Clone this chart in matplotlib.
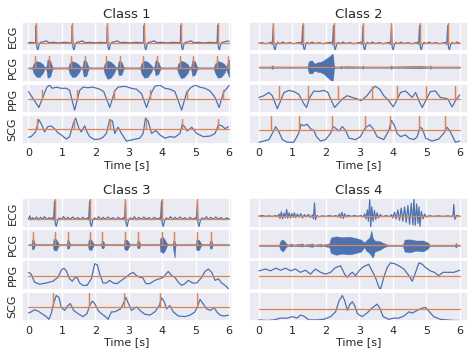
import numpy as np
import matplotlib.pyplot as plt
import seaborn as sns

sns.set_theme(style="darkgrid")
plt.rcParams['font.family'] = ['DejaVu Sans']

signal_names = ["ECG", "PCG", "PPG", "SCG"]
class_names = ["Class 1", "Class 2", "Class 3", "Class 4"]
time_ticks = [0, 1, 2, 3, 4, 5, 6]

# ---------------- Class 1 ----------------
c1_ecg = [(0.00, .30), (0.08, .31), (0.18, .29), (0.21, .27), (0.23, .88), (0.25, .15), (0.28, .04), (0.32, .25),
          (0.36, .31), (0.45, .33), (0.53, .36), (0.61, .30), (0.75, .31), (0.90, .29), (1.05, .31), (1.18, .30),
          (1.26, .29), (1.29, .27), (1.31, .88), (1.33, .15), (1.36, .04), (1.40, .25), (1.44, .31), (1.53, .33),
          (1.61, .36), (1.69, .30), (1.85, .31), (2.00, .29), (2.15, .31), (2.28, .30), (2.31, .29), (2.34, .27),
          (2.36, .88), (2.38, .15), (2.41, .04), (2.45, .25), (2.49, .31), (2.58, .33), (2.66, .36), (2.74, .30),
          (2.90, .31), (3.05, .29), (3.20, .31), (3.38, .30), (3.41, .29), (3.44, .27), (3.46, .88), (3.48, .15),
          (3.51, .04), (3.55, .25), (3.59, .31), (3.68, .33), (3.76, .36), (3.84, .30), (4.00, .31), (4.15, .29),
          (4.30, .31), (4.48, .30), (4.51, .29), (4.54, .27), (4.56, .88), (4.58, .15), (4.61, .04), (4.65, .25),
          (4.69, .31), (4.78, .33), (4.86, .36), (4.94, .30), (5.10, .31), (5.25, .29), (5.40, .31), (5.58, .30),
          (5.61, .29), (5.64, .27), (5.66, .88), (5.68, .15), (5.71, .04), (5.75, .25), (5.79, .31), (5.88, .33),
          (5.96, .36), (6.00, .34)]
c1_pcg = [(0.00, .47, .51), (0.11, .47, .51), (0.15, .32, .64), (0.23, .20, .72), (0.33, .18, .70), (0.43, .32, .62),
          (0.48, .46, .52), (0.53, .45, .53), (0.57, .16, .78), (0.65, .20, .74), (0.71, .45, .53), (0.75, .47, .51),
          (1.19, .47, .51), (1.23, .30, .66), (1.31, .18, .72), (1.41, .20, .68), (1.51, .34, .60), (1.56, .46, .52),
          (1.61, .45, .53), (1.65, .20, .76), (1.73, .22, .72), (1.79, .45, .53), (1.83, .47, .51),
          (2.24, .47, .51), (2.28, .30, .64), (2.36, .12, .74), (2.46, .16, .70), (2.56, .32, .60), (2.61, .46, .52),
          (2.66, .45, .53), (2.70, .24, .74), (2.78, .26, .70), (2.84, .45, .53), (2.88, .47, .51),
          (3.34, .47, .51), (3.38, .30, .66), (3.46, .16, .74), (3.56, .18, .70), (3.66, .34, .60), (3.71, .46, .52),
          (3.76, .45, .53), (3.80, .24, .76), (3.88, .28, .70), (3.94, .45, .53), (3.98, .47, .51),
          (4.44, .47, .51), (4.48, .32, .64), (4.56, .14, .74), (4.66, .18, .70), (4.76, .32, .62), (4.81, .46, .52),
          (4.86, .45, .53), (4.90, .22, .76), (4.98, .26, .72), (5.04, .45, .53), (5.08, .47, .51),
          (5.54, .47, .51), (5.58, .32, .64), (5.66, .16, .72), (5.76, .18, .70), (5.86, .32, .62), (5.91, .46, .52),
          (5.95, .32, .68), (6.00, .18, .78)]
c1_ppg = [(0.00, .74), (0.31, .20), (0.55, .89), (0.63, .96), (0.71, .85), (0.83, .89), (0.98, .85), (1.13, .85),
          (1.23, .78), (1.38, .11), (1.53, .78), (1.63, .89), (1.78, .87), (1.93, .89), (2.13, .82), (2.25, .74),
          (2.43, .20), (2.58, .76), (2.68, .89), (2.88, .92), (3.08, .85), (3.23, .82), (3.38, .67), (3.53, .20),
          (3.68, .71), (3.78, .92), (3.93, .96), (4.08, .85), (4.23, .82), (4.38, .74), (4.58, .11), (4.73, .71),
          (4.85, .87), (4.98, .96), (5.13, .89), (5.28, .85), (5.43, .76), (5.58, .54), (5.70, .20), (5.83, .71),
          (5.98, .92), (6.00, .96)]
c1_scg = [(0.00, .24), (0.08, .26), (0.21, .42), (0.31, .84), (0.41, .63), (0.48, .42), (0.58, .60), (0.68, .62),
          (0.78, .53), (0.88, .39), (0.98, .32), (1.13, .18), (1.23, .26), (1.35, .74), (1.41, .89), (1.51, .53),
          (1.58, .42), (1.68, .63), (1.75, .42), (1.83, .26), (1.98, .16), (2.13, .18), (2.23, .24), (2.33, .37),
          (2.43, .84), (2.51, .79), (2.58, .37), (2.68, .58), (2.78, .37), (2.93, .11), (3.13, .16), (3.33, .21),
          (3.43, .37), (3.50, .89), (3.58, .79), (3.68, .37), (3.81, .47), (3.93, .32), (4.08, .21), (4.23, .26),
          (4.38, .24), (4.53, .37), (4.60, .68), (4.68, .58), (4.75, .45), (4.88, .58), (5.03, .37), (5.23, .26),
          (5.43, .28), (5.58, .37), (5.68, .66), (5.78, .63), (5.88, .53), (5.98, .60)]
c1_marks = [[0.23, 1.31, 2.36, 3.46, 4.56, 5.66],
            [0.20, 0.60, 1.28, 1.68, 2.33, 2.73, 3.43, 3.83, 4.53, 4.93, 5.63, 5.98],
            [0.41, 1.45, 2.56, 3.64, 4.73, 5.83],
            [0.25, 1.35, 2.43, 3.50, 4.58, 5.66]]
c1_base = [0.30, 0.49, 0.49, 0.53]
c1_top = [0.97, 0.88, 0.78, 0.87]

# ---------------- Class 2 ----------------
c2_ecg = [(0.00, .28), (0.10, .30), (0.20, .26), (0.30, .29), (0.37, .31), (0.40, .24), (0.43, .88), (0.45, .15),
          (0.48, .05), (0.52, .24), (0.56, .31), (0.63, .26), (0.71, .32), (0.79, .27), (0.93, .30), (1.03, .26),
          (1.13, .29), (1.25, .31), (1.28, .24), (1.31, .88), (1.33, .15), (1.36, .05), (1.40, .24), (1.44, .31),
          (1.51, .26), (1.59, .32), (1.67, .27), (1.81, .30), (1.91, .26), (2.01, .29), (2.17, .31), (2.20, .24),
          (2.23, .88), (2.25, .15), (2.28, .05), (2.32, .24), (2.36, .31), (2.43, .26), (2.51, .32), (2.59, .27),
          (2.73, .30), (2.83, .26), (2.93, .29), (3.05, .31), (3.08, .24), (3.11, .88), (3.13, .15), (3.16, .05),
          (3.20, .24), (3.24, .31), (3.31, .26), (3.39, .32), (3.47, .27), (3.61, .30), (3.71, .26), (3.81, .29),
          (3.90, .31), (3.93, .24), (3.96, .88), (3.98, .15), (4.01, .05), (4.05, .24), (4.09, .31), (4.16, .26),
          (4.24, .32), (4.32, .27), (4.46, .30), (4.56, .26), (4.66, .29), (4.74, .31), (4.77, .24), (4.80, .88),
          (4.82, .15), (4.85, .05), (4.89, .24), (4.93, .31), (5.00, .26), (5.08, .32), (5.16, .27), (5.30, .30),
          (5.40, .26), (5.50, .29), (5.58, .31), (5.61, .24), (5.64, .88), (5.66, .15), (5.69, .05), (5.73, .24),
          (5.77, .31), (5.84, .26), (5.92, .32), (6.00, .28)]
c2_pcg = [(0.00, .50, .54), (0.36, .50, .54), (0.40, .46, .58), (0.44, .50, .54), (1.45, .50, .54), (1.49, .32, .72),
          (1.58, .30, .75), (1.66, .40, .64), (1.75, .36, .68), (1.85, .34, .70), (1.95, .28, .76), (2.02, .20, .82),
          (2.10, .12, .88), (2.17, .05, .95), (2.21, .03, .97), (2.24, .45, .58), (2.27, .50, .54), (2.42, .50, .54),
          (2.45, .47, .57), (2.48, .50, .54), (2.60, .49, .55), (3.08, .50, .54), (3.10, .46, .58), (3.13, .50, .54),
          (3.92, .50, .54), (3.95, .46, .58), (3.99, .50, .54), (4.80, .48, .56), (5.10, .50, .54), (5.12, .46, .58),
          (5.15, .50, .54), (6.00, .50, .54)]
c2_ppg = [(0.00, .54), (0.15, .60), (0.30, .71), (0.40, .60), (0.55, .16), (0.65, .43), (0.75, .71), (0.90, .78),
          (1.04, .74), (1.19, .65), (1.34, .33), (1.42, .20), (1.52, .54), (1.64, .76), (1.79, .74), (1.94, .78),
          (2.06, .71), (2.14, .49), (2.26, .20), (2.34, .30), (2.49, .49), (2.64, .60), (2.79, .54), (2.94, .49),
          (3.05, .43), (3.23, .60), (3.33, .76), (3.48, .92), (3.61, .82), (3.73, .60), (3.88, .43), (4.01, .22),
          (4.11, .43), (4.23, .71), (4.38, .76), (4.48, .65), (4.58, .54), (4.68, .71), (4.81, .35), (4.88, .20),
          (4.98, .43), (5.12, .74), (5.27, .76), (5.42, .54), (5.52, .52), (5.64, .49), (5.77, .22), (5.87, .43),
          (6.00, .63)]
c2_scg = [(0.00, .07), (0.15, .11), (0.30, .16), (0.40, .37), (0.50, .60), (0.60, .42), (0.70, .16), (0.85, .07),
          (1.04, .07), (1.19, .37), (1.26, .68), (1.34, .63), (1.44, .68), (1.54, .53), (1.64, .47), (1.72, .26),
          (1.84, .11), (1.99, .16), (2.14, .37), (2.22, .60), (2.31, .53), (2.39, .45), (2.49, .60), (2.59, .47),
          (2.69, .21), (2.89, .16), (3.03, .26), (3.16, .53), (3.23, .60), (3.31, .66), (3.41, .53), (3.53, .26),
          (3.73, .16), (3.88, .47), (3.96, .81), (4.05, .63), (4.13, .37), (4.23, .26), (4.38, .32), (4.48, .21),
          (4.63, .16), (4.73, .26), (4.81, .58), (4.88, .53), (4.98, .21), (5.17, .11), (5.37, .18), (5.52, .37),
          (5.62, .58), (5.72, .42), (5.87, .07), (6.00, .11)]
c2_marks = [[0.43, 1.31, 2.23, 3.11, 3.96, 4.80, 5.64],
            [],
            [0.60, 1.47, 2.36, 3.38, 4.13, 5.00, 5.87],
            [0.35, 1.19, 2.17, 3.18, 3.91, 4.79, 5.57]]
c2_base = [0.28, 0.52, 0.49, 0.49]
c2_top = [0.97, 0.52, 0.92, 0.95]

# ---------------- Class 3 ----------------
c3_ecg = [(0.00, .30), (0.04, .40), (0.07, .26), (0.12, .34), (0.18, .28), (0.24, .36), (0.30, .27), (0.36, .35),
          (0.42, .29), (0.48, .37), (0.55, .28), (0.62, .34), (0.68, .30), (0.72, .34), (0.75, .26), (0.78, .90),
          (0.80, .15), (0.83, .04), (0.87, .24), (0.92, .33), (0.98, .28), (1.05, .38), (1.10, .27), (1.18, .35),
          (1.25, .28), (1.32, .36), (1.40, .29), (1.48, .34), (1.55, .27), (1.62, .35), (1.70, .29), (1.77, .33),
          (1.80, .26), (1.83, .90), (1.85, .15), (1.88, .04), (1.92, .24), (1.97, .33), (2.04, .28), (2.10, .37),
          (2.16, .27), (2.23, .35), (2.30, .28), (2.38, .36), (2.45, .29), (2.53, .34), (2.60, .27), (2.68, .35),
          (2.76, .29), (2.84, .33), (2.87, .26), (2.90, .90), (2.92, .15), (2.95, .04), (2.99, .24), (3.04, .33),
          (3.10, .28), (3.17, .37), (3.23, .27), (3.30, .35), (3.38, .28), (3.45, .36), (3.52, .29), (3.60, .34),
          (3.68, .27), (3.76, .35), (3.84, .29), (3.92, .33), (3.95, .26), (3.98, .90), (4.00, .15), (4.03, .04),
          (4.07, .24), (4.12, .33), (4.18, .28), (4.25, .37), (4.31, .27), (4.38, .35), (4.45, .28), (4.53, .36),
          (4.60, .29), (4.68, .34), (4.75, .27), (4.83, .35), (4.91, .29), (4.99, .33), (5.02, .26), (5.05, .90),
          (5.07, .15), (5.10, .04), (5.14, .24), (5.19, .33), (5.25, .28), (5.32, .37), (5.38, .27), (5.45, .35),
          (5.52, .28), (5.60, .36), (5.68, .29), (5.76, .34), (5.84, .27), (5.92, .33), (6.00, .30)]
c3_pcg = [(0.00, .46, .50), (0.09, .46, .50), (0.11, .32, .66), (0.16, .34, .64), (0.19, .46, .50),
          (0.73, .46, .50), (0.75, .30, .68), (0.83, .28, .66), (0.88, .40, .56), (0.91, .46, .50),
          (1.14, .46, .50), (1.16, .34, .64), (1.21, .36, .62), (1.24, .46, .50),
          (1.78, .46, .50), (1.80, .32, .66), (1.88, .30, .64), (1.93, .42, .54), (1.96, .46, .50),
          (2.17, .46, .50), (2.19, .36, .62), (2.24, .36, .60), (2.27, .46, .50),
          (2.85, .46, .50), (2.87, .32, .66), (2.95, .30, .64), (3.00, .40, .56), (3.03, .46, .50),
          (3.24, .46, .50), (3.26, .36, .62), (3.31, .36, .60), (3.34, .46, .50),
          (3.92, .46, .50), (3.94, .26, .70), (4.02, .20, .74), (4.08, .28, .64), (4.13, .42, .54), (4.16, .46, .50),
          (4.31, .46, .50), (4.33, .30, .62), (4.37, .03, .60), (4.40, .46, .50),
          (5.00, .46, .50), (5.02, .30, .66), (5.10, .30, .64), (5.15, .42, .54), (5.18, .46, .50),
          (5.41, .46, .50), (5.43, .34, .62), (5.48, .36, .60), (5.51, .46, .50), (6.00, .46, .50)]
c3_ppg = [(0.00, .60), (0.08, .54), (0.18, .27), (0.33, .20), (0.53, .24), (0.73, .30), (0.88, .43), (0.98, .67),
          (1.06, .74), (1.13, .65), (1.23, .38), (1.31, .30), (1.38, .41), (1.45, .43), (1.53, .24), (1.63, .16),
          (1.75, .16), (1.88, .38), (1.98, .89), (2.06, .85), (2.13, .54), (2.23, .24), (2.33, .24), (2.43, .33),
          (2.53, .24), (2.65, .22), (2.78, .33), (2.91, .43), (3.03, .54), (3.13, .60), (3.23, .49), (3.33, .43),
          (3.41, .43), (3.51, .22), (3.63, .22), (3.78, .33), (3.91, .38), (4.03, .43), (4.18, .63), (4.28, .49),
          (4.38, .43), (4.48, .27), (4.58, .16), (4.68, .22), (4.78, .33), (4.91, .24), (5.03, .24), (5.18, .43),
          (5.28, .63), (5.38, .71), (5.48, .60), (5.58, .33), (5.68, .38), (5.78, .24), (5.88, .16), (5.98, .05)]
c3_scg = [(0.00, .28), (0.08, .32), (0.18, .39), (0.28, .35), (0.43, .24), (0.53, .16), (0.61, .07), (0.68, .26),
          (0.75, .60), (0.83, .87), (0.91, .81), (0.98, .47), (1.08, .37), (1.18, .53), (1.25, .60), (1.35, .37),
          (1.48, .26), (1.63, .16), (1.75, .26), (1.83, .53), (1.91, .68), (1.98, .60), (2.08, .37), (2.18, .26),
          (2.28, .18), (2.38, .07), (2.48, .32), (2.58, .32), (2.75, .42), (2.85, .63), (2.91, .81), (2.98, .63),
          (3.08, .37), (3.23, .49), (3.33, .37), (3.48, .24), (3.63, .21), (3.78, .32), (3.91, .53), (3.98, .79),
          (4.06, .66), (4.13, .42), (4.23, .53), (4.33, .32), (4.48, .18), (4.68, .16), (4.83, .21), (4.98, .32),
          (5.05, .49), (5.13, .74), (5.23, .58), (5.33, .42), (5.45, .37), (5.55, .47), (5.63, .32), (5.73, .21),
          (5.85, .18), (5.98, .21)]
c3_marks = [[0.78, 1.83, 2.90, 3.98, 5.05],
            [0.13, 0.78, 1.18, 1.83, 2.21, 2.90, 3.28, 3.98, 4.36, 5.05, 5.45],
            [],
            [0.73, 1.81, 2.85, 3.93, 5.05]]
c3_base = [0.30, 0.48, 0.46, 0.49]
c3_top = [0.97, 0.89, 0.46, 0.95]

# ---------------- Class 4 ----------------
c4_ecg = [(0.00, .39), (0.10, .41), (0.20, .38), (0.30, .40), (0.40, .38), (0.50, .41), (0.56, .37), (0.60, .46),
          (0.63, .31), (0.67, .53), (0.71, .30), (0.75, .49), (0.79, .34), (0.83, .61), (0.86, .32), (0.90, .50),
          (0.94, .33), (0.98, .48), (1.02, .35), (1.06, .50), (1.10, .34), (1.15, .46), (1.20, .36), (1.25, .47),
          (1.30, .33), (1.36, .44), (1.42, .37), (1.48, .45), (1.54, .35), (1.60, .43), (1.63, .30), (1.66, .83),
          (1.69, .27), (1.73, .41), (1.80, .37), (1.90, .40), (2.00, .38), (2.10, .41), (2.20, .38), (2.30, .41),
          (2.36, .36), (2.40, .46), (2.44, .33), (2.48, .52), (2.52, .31), (2.56, .47), (2.60, .36), (2.66, .42),
          (2.75, .38), (2.85, .41), (2.95, .38), (3.05, .41), (3.12, .36), (3.16, .47), (3.20, .30), (3.24, .60),
          (3.27, .22), (3.31, .94), (3.34, .02), (3.37, .70), (3.41, .22), (3.45, .58), (3.49, .28), (3.53, .50),
          (3.57, .33), (3.62, .44), (3.70, .37), (3.80, .41), (3.90, .37), (3.96, .44), (4.00, .33), (4.05, .52),
          (4.10, .29), (4.15, .60), (4.20, .25), (4.25, .66), (4.30, .22), (4.35, .70), (4.40, .18), (4.45, .75),
          (4.50, .12), (4.55, .82), (4.60, .10), (4.63, .97), (4.67, .08), (4.71, .80), (4.75, .15), (4.78, .70),
          (4.81, .05), (4.85, .55), (4.90, .30), (4.95, .46), (5.00, .36), (5.10, .41), (5.20, .38), (5.35, .40),
          (5.50, .38), (5.65, .40), (5.76, .37), (5.80, .45), (5.82, .78), (5.85, .28), (5.90, .41), (6.00, .39)]
c4_pcg = [(0.00, .44, .48), (0.60, .44, .48), (0.65, .30, .62), (0.72, .25, .65), (0.80, .38, .55), (0.85, .44, .48),
          (0.98, .42, .52), (1.02, .44, .48), (1.30, .42, .52), (1.34, .44, .48), (1.60, .41, .52), (1.65, .44, .48),
          (1.85, .42, .51), (1.90, .44, .48), (2.10, .40, .52), (2.15, .20, .72), (2.30, .14, .76), (2.50, .18, .73),
          (2.70, .15, .75), (2.90, .20, .70), (3.05, .25, .65), (3.15, .40, .55), (3.20, .28, .62), (3.30, .20, .72),
          (3.36, .10, .95), (3.40, .03, .70), (3.46, .25, .62), (3.60, .30, .60), (3.75, .40, .52), (3.85, .44, .48),
          (4.30, .44, .48), (4.35, .25, .65), (4.50, .22, .66), (4.70, .28, .62), (4.90, .25, .62), (5.05, .35, .55),
          (5.10, .44, .48), (5.85, .44, .48), (5.88, .38, .54), (5.92, .44, .48), (6.00, .44, .48)]
c4_ppg = [(0.00, .65), (0.20, .71), (0.35, .65), (0.50, .74), (0.65, .67), (0.80, .74), (0.95, .65), (1.09, .71),
          (1.24, .60), (1.39, .67), (1.54, .54), (1.69, .71), (1.84, .60), (1.99, .54), (2.14, .60), (2.29, .76),
          (2.44, .82), (2.56, .54), (2.64, .43), (2.72, .54), (2.79, .60), (2.89, .49), (2.99, .65), (3.11, .78),
          (3.28, .87), (3.38, .65), (3.48, .43), (3.58, .11), (3.63, .02), (3.73, .43), (3.83, .76), (3.93, .92),
          (4.05, .89), (4.18, .82), (4.33, .71), (4.48, .49), (4.58, .30), (4.68, .60), (4.78, .92), (4.88, .87),
          (4.98, .76), (5.12, .65), (5.24, .60), (5.37, .49), (5.50, .60), (5.67, .60), (5.82, .60), (6.00, .67)]
c4_scg = [(0.00, .05), (0.25, .03), (0.45, .05), (0.65, .11), (0.85, .11), (1.00, .16), (1.14, .11), (1.24, .21),
          (1.34, .18), (1.49, .05), (1.74, .05), (1.94, .07), (2.14, .16), (2.29, .32), (2.39, .68), (2.49, .87),
          (2.56, .71), (2.64, .37), (2.72, .58), (2.79, .66), (2.86, .53), (2.94, .26), (3.08, .16), (3.23, .28),
          (3.38, .45), (3.53, .58), (3.61, .45), (3.71, .16), (3.88, .07), (4.03, .11), (4.18, .11), (4.33, .18),
          (4.48, .32), (4.58, .28), (4.73, .37), (4.88, .45), (4.98, .47), (5.07, .35), (5.22, .16), (5.42, .07),
          (5.62, .05), (5.82, .03), (6.00, .03)]
c4_marks = [[], [], [], []]
c4_base = [0.39, 0.46, 0.48, 0.42]
c4_top = [0.39, 0.46, 0.48, 0.42]

classes = [
    (c1_ecg, c1_pcg, c1_ppg, c1_scg, c1_marks, c1_base, c1_top),
    (c2_ecg, c2_pcg, c2_ppg, c2_scg, c2_marks, c2_base, c2_top),
    (c3_ecg, c3_pcg, c3_ppg, c3_scg, c3_marks, c3_base, c3_top),
    (c4_ecg, c4_pcg, c4_ppg, c4_scg, c4_marks, c4_base, c4_top),
]

blue = "#4c72b0"
orange = "#dd8452"


def marker_trace(marks, base, top):
    # flat annotation line with a vertical tick at each event
    xs, ys = [0.0], [base]
    for m in marks:
        xs += [m, m, m]
        ys += [base, top, base]
    xs.append(6.0)
    ys.append(base)
    return xs, ys


fig = plt.figure(figsize=(4.74, 3.52), dpi=100)

# panel boxes (left, right, bottom, top) and x-limits per column
boxes = [(0.046, 0.489, 0.590, 0.9375), (0.525, 0.987, 0.590, 0.9375),
         (0.046, 0.489, 0.087, 0.4375), (0.525, 0.987, 0.087, 0.4375)]
xlims = [(-0.2, 6.08), (-0.3, 6.24), (-0.2, 6.08), (-0.3, 6.24)]

for k, (ecg, pcg, ppg, scg, marks, base, top) in enumerate(classes):
    l, r, b, t = boxes[k]
    gs = fig.add_gridspec(4, 1, left=l, right=r, bottom=b, top=t, hspace=0.05)
    axes = [fig.add_subplot(gs[i]) for i in range(4)]
    for i, ax in enumerate(axes):
        if i == 1:
            arr = np.array(pcg)
            ax.fill_between(arr[:, 0], arr[:, 1], arr[:, 2], color=blue, lw=0.3)
        else:
            arr = np.array([ecg, None, ppg, scg][i])
            ax.plot(arr[:, 0], arr[:, 1], color=blue, lw=0.9)
        mx, my = marker_trace(marks[i], base[i], top[i])
        ax.plot(mx, my, color=orange, lw=0.9)
        ax.set_ylim(0, 1)
        ax.set_yticks([])
        ax.set_xlim(*xlims[k])
        ax.set_xticks(time_ticks)
        ax.tick_params(length=0)
        if k % 2 == 0:
            ax.set_ylabel(signal_names[i], fontsize=8, labelpad=3)
        if i < 3:
            ax.tick_params(labelbottom=False)
        else:
            ax.tick_params(axis='x', labelsize=8, pad=3)
            ax.set_xlabel("Time [s]", fontsize=8, labelpad=1)
    axes[0].set_title(class_names[k], fontsize=9.5, pad=3)

fig.savefig("out.png", dpi=100)
